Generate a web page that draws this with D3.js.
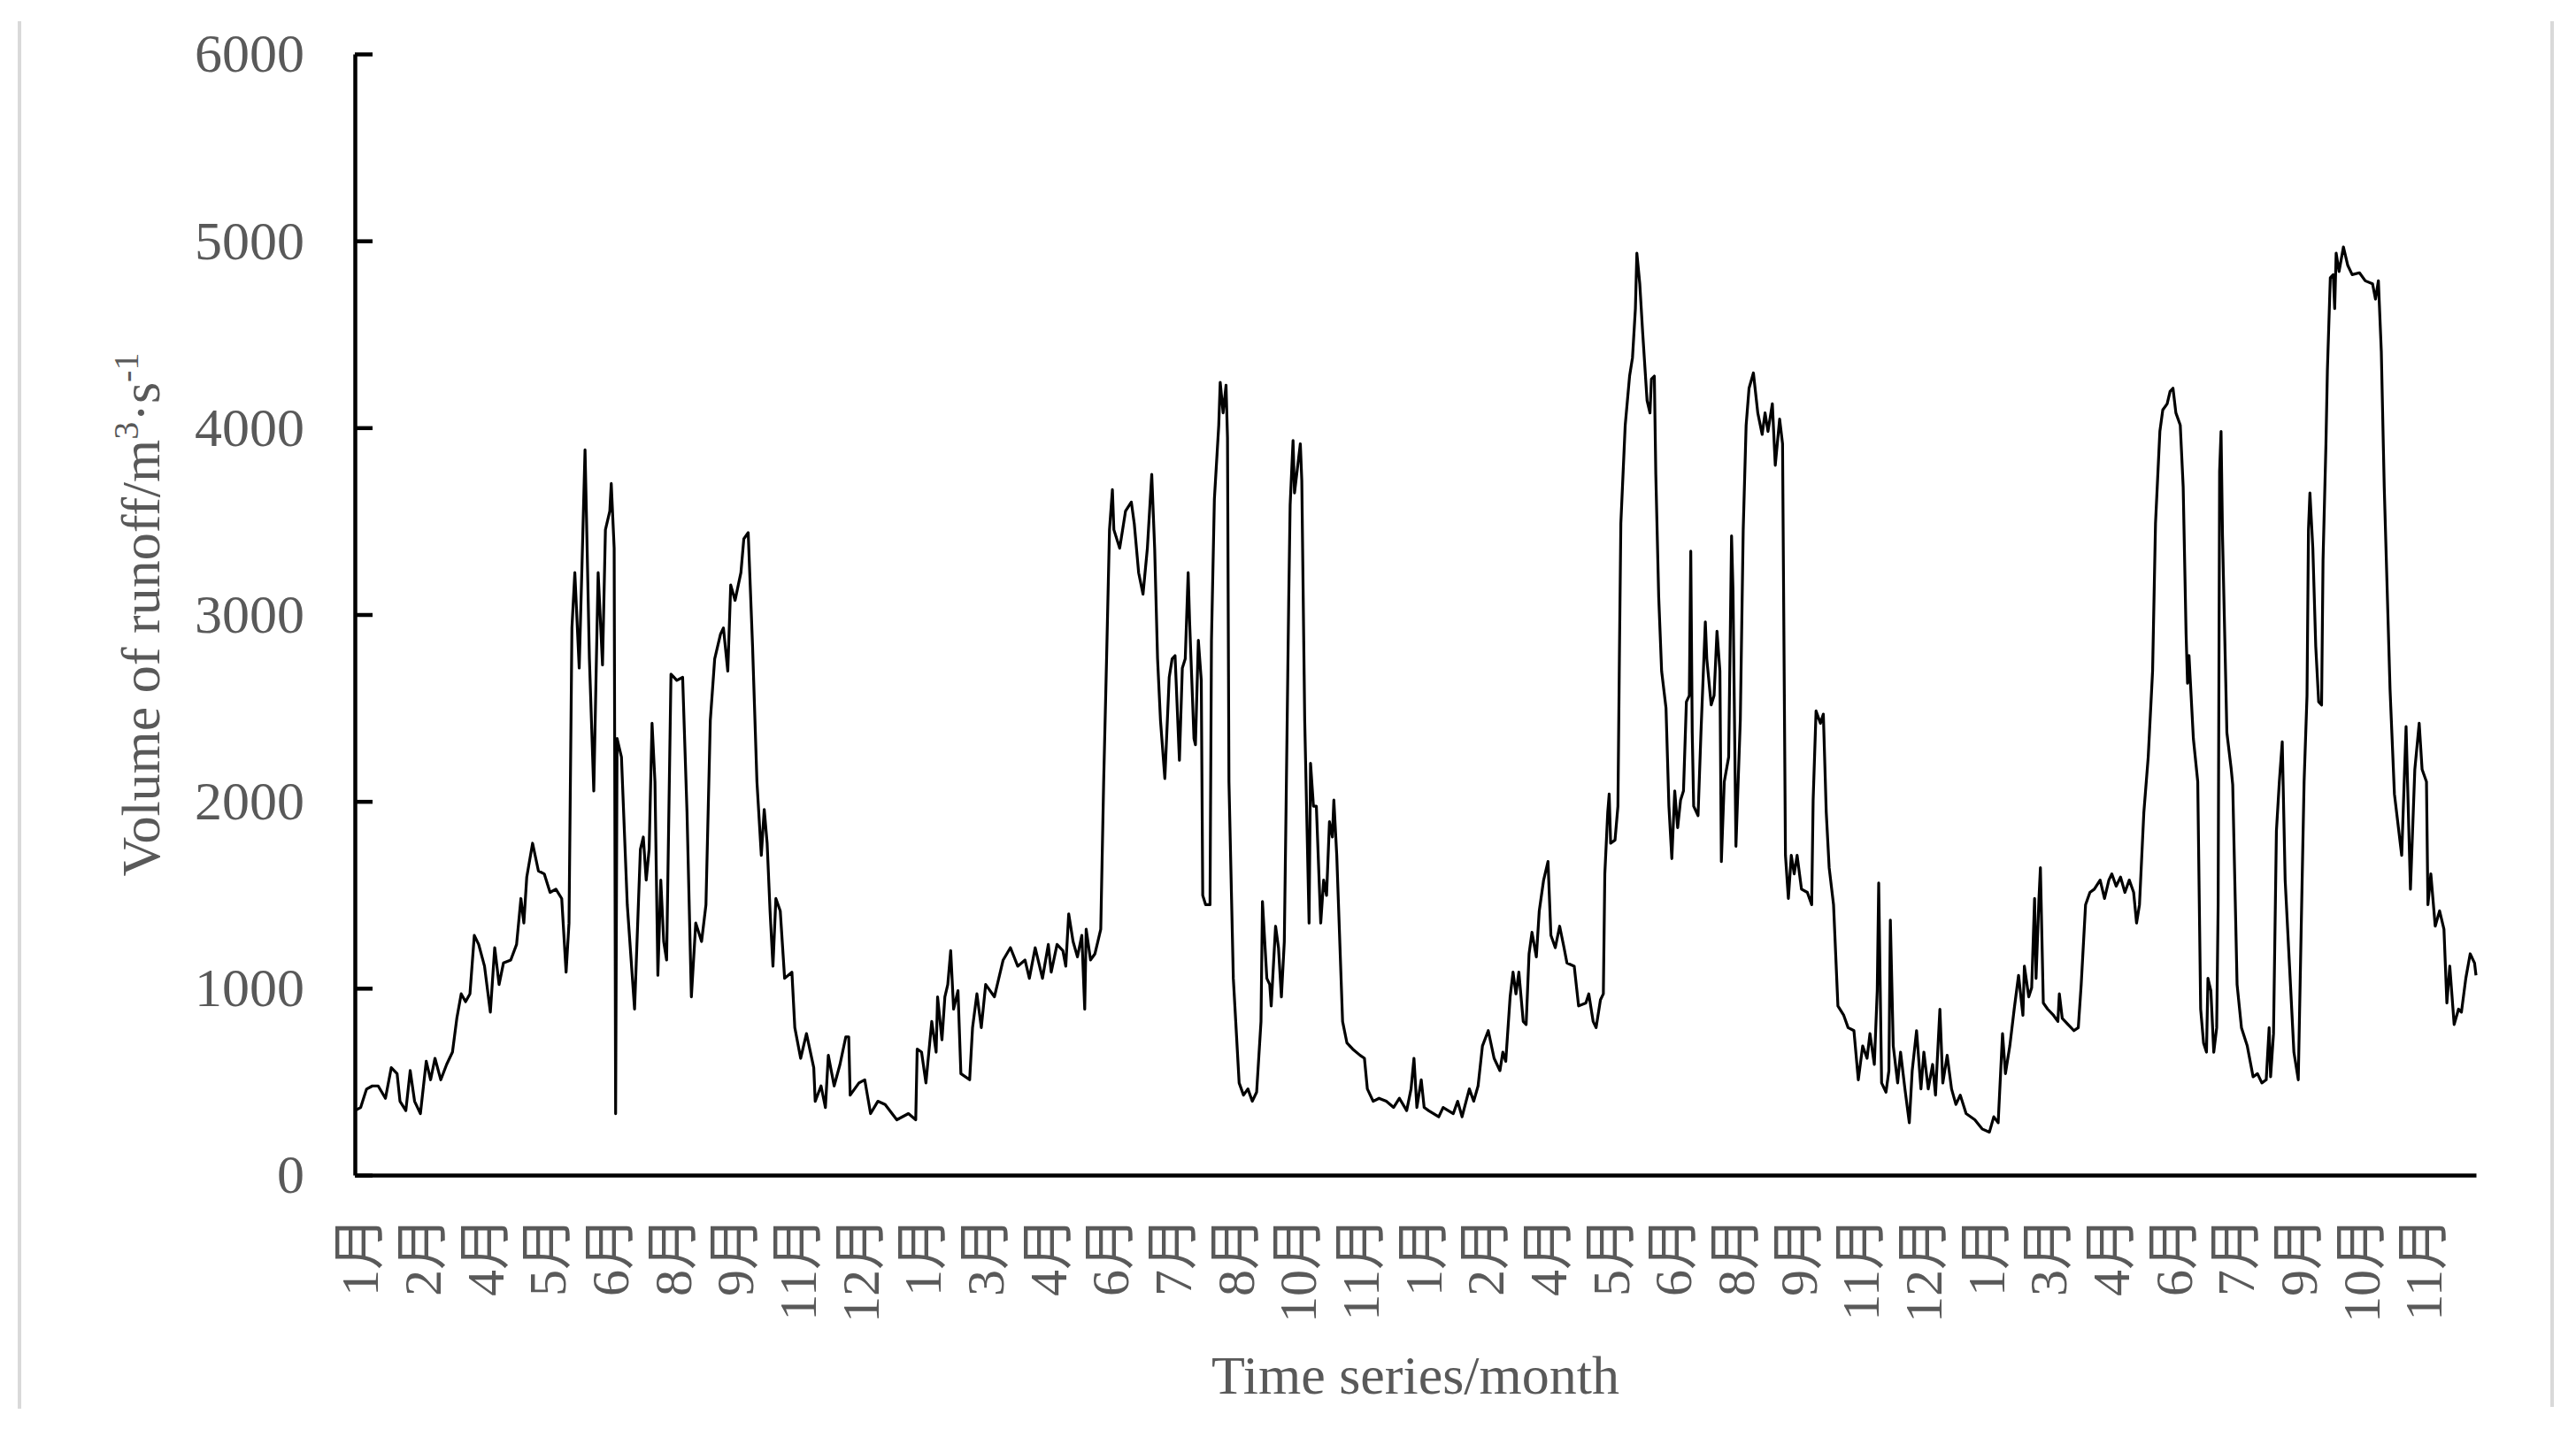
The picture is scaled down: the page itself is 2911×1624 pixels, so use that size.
<!DOCTYPE html>
<html>
<head>
<meta charset="utf-8">
<script src="https://cdn.jsdelivr.net/npm/d3@7"></script>
<style>
  body { margin: 0; background: #fff; }
</style>
</head>
<body>
<script>
// day index (from start of series) and runoff value
let days = [0,4,8,12,16,21,25,29,31,35,38,41,45,49,52,55,59,63,67,70,73,76,79,82,85,89,93,96,99,102,107,111,114,116,118,122,126,130,134,138,142,145,147,149,151,154,156,158,159,161,164,167,170,172,175,176,178,179,180,183,187,192,196,198,200,202,204,206,208,210,212,214,217,221,225,228,231,234,238,241,
  244,247,251,253,256,258,261,265,267,270,273,276,279,281,283,285,287,289,292,295,300,302,306,310,315,316,320,323,325,329,333,337,339,340,346,350,354,359,364,372,380,385,386,389,392,396,399,400,403,405,407,409,411,414,416,422,424,427,430,433,439,445,450,455,460,463,467,472,476,478,482,486,
  488,490,493,496,499,501,502,505,508,510,512,514,516,518,520,521,525,527,529,533,535,538,541,544,547,549,551,553,556,559,561,563,566,568,570,572,573,576,577,579,581,582,584,587,588,590,593,594,596,598,599,600,603,607,610,613,616,619,622,623,626,628,629,632,634,636,638,639,641,642,644,645,647,649,650,652,655,656,658,660,663,665,667,669,671,672,674,678,681,685,690,693,695,699,703,708,713,717,722,725,727,729,732,734,737,
  744,747,754,757,760,765,768,771,774,778,782,786,788,790,793,795,797,799,802,804,806,808,811,813,816,819,821,824,827,830,832,837,840,845,847,850,852,855,857,858,860,861,862,865,867,868,869,872,875,877,879,880,882,884,887,889,890,892,893,895,897,900,902,904,906,908,910,912,914,916,917,918,919,922,924,927,928,931,933,935,937,938,940,943,945,946,948,951,953,955,957,960,963,966,968,970,973,975,978,
  980,982,984,986,988,990,993,997,1000,1001,1003,1006,1008,1010,1012,1015,1018,1022,1025,1029,1032,1035,1038,1040,1043,1045,1046,1048,1051,1053,1054,1056,1059,1061,1064,1067,1069,1072,1075,1077,1080,1083,1085,1088,1090,1093,1096,1099,1102,1106,1112,1117,1122,1125,1128,1131,1133,1136,1139,1142,1145,1146,1149,1151,1153,1154,1156,1157,1159,1162,1166,1169,1170,1172,1176,1180,1183,1185,1188,1191,1194,1198,1201,1204,1206,1209,1212,1215,1218,1221,1223,1225,1227,
  1228,1231,1234,1236,1239,1241,1244,1246,1248,1250,1253,1255,1257,1258,1259,1262,1265,1267,1269,1271,1272,1274,1276,1278,1279,1280,1281,1282,1285,1288,1289,1292,1295,1299,1303,1306,1309,1312,1314,1315,1317,1319,1321,1323,1325,1328,1331,1334,1336,1338,1340,1341,1342,1344,1346,1348,1350,1351,1353,1354,1356,1358,1359,1360,1362,1365,1368,1371,1376,1380,1385,1387,1389,1391,1393,1397,1400,1403,1405,1408,1409,1411,1414,1417,1419,1422,1423,1425,1428,1431,1434,1436,1438,1441,1444,1446,1449,1452,1455,1456];

let runoff = [345,362,460,477,477,411,575,543,395,345,559,395,329,609,510,625,510,592,658,839,970,928,970,1283,1234,1118,872,1217,1020,1135,1151,1234,1480,1349,1595,1776,1628,1612,1513,1530,1480,1086,1349,2928,3224,2714,3289,3882,3520,2763,2056,3224,2730,3454,3553,3701,3355,329,2336,2237,1447,888,1743,1809,1579,1743,2418,2105,1069,1579,1250,1151,2681,2648,2664,1941,954,1349,1250,1447,
  2434,2763,2895,2928,2697,3158,3076,3224,3405,3438,2829,2105,1711,1957,1776,1414,1118,1480,1414,1053,1086,789,625,757,575,395,477,362,641,477,592,740,740,428,493,510,329,395,378,296,329,296,674,658,493,822,658,954,724,954,1020,1201,888,987,543,510,789,970,789,1020,954,1151,1217,1118,1151,1053,1217,1053,1234,1086,1234,1201,
  1118,1398,1250,1168,1283,888,1316,1151,1184,1250,1316,2105,2763,3454,3668,3454,3355,3454,3553,3602,3487,3224,3109,3355,3750,3355,2763,2434,2122,2664,2763,2780,2220,2714,2763,3224,2961,2336,2303,2862,2648,1497,1447,1447,2862,3618,4013,4243,4079,4227,3947,2105,1053,493,428,461,395,444,822,1464,1053,1020,905,1332,1217,954,1250,1842,3059,3586,3931,3651,3783,3914,3717,2434,1349,2204,1974,1974,1349,1579,1497,1891,1809,2007,1711,822,707,674,641,625,461,395,411,395,362,411,345,461,625,362,510,362,345,
  312,362,329,395,312,461,395,477,691,773,625,559,658,609,954,1086,970,1086,822,806,1184,1299,1168,1414,1579,1678,1283,1217,1332,1217,1135,1118,905,921,970,822,789,938,970,1612,1941,2039,1776,1793,1974,2763,3487,4013,4276,4375,4638,4934,4770,4507,4145,4079,4260,4276,3750,3092,2697,2500,1974,1694,2056,1859,2007,2056,2533,2566,3339,2368,1974,1924,2368,2961,2763,2516,2566,2911,2697,1678,2105,2237,3421,3125,1760,2434,3454,4013,4211,4293,4079,3964,4079,3980,4128,3799,4046,
  3914,1711,1480,1711,1612,1711,1530,1513,1447,2007,2484,2418,2467,1941,1645,1447,905,855,789,773,510,691,625,757,592,987,1563,493,444,559,1365,691,493,658,461,280,559,773,461,658,461,592,428,888,493,641,461,378,428,329,296,247,230,312,280,757,543,691,888,1069,855,1118,954,1003,1480,1053,1480,1645,921,888,855,822,970,839,806,773,789,1020,1447,1513,1530,1579,1480,1579,1612,1546,1595,1513,1579,1513,1349,1447,1776,
  1941,2237,2697,3487,3980,4095,4128,4194,4211,4079,4013,3684,2895,2632,2780,2336,2105,888,707,658,1053,987,658,789,1447,3766,3980,3421,2368,2171,2089,1020,789,691,526,543,493,510,789,526,757,1842,2105,2319,1579,1118,658,510,1316,2105,2566,3454,3651,3355,2829,2533,2516,3289,3914,4309,4803,4819,4638,4934,4836,4967,4868,4819,4829,4786,4770,4688,4786,4408,3684,2599,2039,1842,1711,2401,2105,1530,2171,2418,2171,2105,1447,1612,1332,1414,1316,921,1118,806,888,872,1053,1184,1135,1069];

// month labels shown along the x axis
let monthLabels = ["1月","2月","4月","5月","6月","8月","9月","11月","12月",
  "1月","3月","4月","6月","7月","8月","10月","11月",
  "1月","2月","4月","5月","6月","8月","9月","11月","12月",
  "1月","3月","4月","6月","7月","9月","10月","11月"];

let yTicks = [0, 1000, 2000, 3000, 4000, 5000, 6000];

let svg = d3.select("body").append("svg")
  .attr("width", 2911)
  .attr("height", 1624)
  .style("background", "#fff");

let plotLeft = 401, plotRight = 2798, plotTop = 61, plotBottom = 1328;
let serif = "'Liberation Serif', 'Times New Roman', 'Noto Sans CJK SC', serif";
let gray = "#595959";

let x = d3.scaleLinear().domain([0, 1456]).range([plotLeft, plotRight]);
let y = d3.scaleLinear().domain([0, 6000]).range([plotBottom, plotTop]);

// light frame lines at the left and right of the figure
svg.append("line").attr("x1", 22).attr("x2", 22).attr("y1", 24).attr("y2", 1592)
  .attr("stroke", "#d9d9d9").attr("stroke-width", 4);
svg.append("line").attr("x1", 2884).attr("x2", 2884).attr("y1", 24).attr("y2", 1590)
  .attr("stroke", "#d9d9d9").attr("stroke-width", 4);

// y axis with inside ticks
let yG = svg.append("g")
  .attr("transform", `translate(${plotLeft},0)`)
  .call(d3.axisLeft(y).tickValues(yTicks).tickFormat(d3.format("d"))
    .tickSizeInner(-20).tickSizeOuter(0).tickPadding(57));
yG.select(".domain").attr("stroke", "#000").attr("stroke-width", 4.5);
yG.selectAll(".tick line").attr("stroke", "#000").attr("stroke-width", 4.5);
yG.selectAll(".tick text")
  .attr("font-family", serif)
  .attr("font-size", 62)
  .attr("fill", gray);

// line of runoff values
let pts = days.map((d, i) => [d, runoff[i]]);
svg.append("path")
  .datum(pts)
  .attr("fill", "none")
  .attr("stroke", "#000")
  .attr("stroke-width", 3.2)
  .attr("stroke-linejoin", "round")
  .attr("d", d3.line().x(d => x(d[0])).y(d => y(d[1])));

// x axis, label every ~43 days
let labelDays = monthLabels.map((m, i) => 3 + i * 42.92);
let xG = svg.append("g")
  .attr("transform", `translate(0,${plotBottom})`)
  .call(d3.axisBottom(x).tickValues(labelDays).tickSize(0)
    .tickFormat((d, i) => monthLabels[i]));
xG.select(".domain").attr("stroke", "#000").attr("stroke-width", 4.5);
xG.selectAll(".tick text")
  .attr("font-family", serif)
  .attr("font-size", 60)
  .attr("fill", gray)
  .attr("text-anchor", "end")
  .attr("transform", "rotate(-90)")
  .attr("x", -47)
  .attr("y", 0)
  .attr("dy", "0.35em");

// axis titles
svg.append("text")
  .attr("x", (plotLeft + plotRight) / 2)
  .attr("y", 1575)
  .attr("text-anchor", "middle")
  .attr("font-family", serif)
  .attr("font-size", 62)
  .attr("fill", gray)
  .text("Time series/month");

let yt = svg.append("text")
  .attr("transform", `translate(180,${(plotTop + plotBottom) / 2}) rotate(-90)`)
  .attr("text-anchor", "middle")
  .attr("font-family", serif)
  .attr("font-size", 62)
  .attr("fill", gray);
yt.append("tspan").text("Volume of runoff/m");
yt.append("tspan").attr("font-size", 40).attr("dy", -24).text("3");
yt.append("tspan").attr("dy", 24).text("·s");
yt.append("tspan").attr("font-size", 40).attr("dy", -24).text("-1");
</script>
</body>
</html>
